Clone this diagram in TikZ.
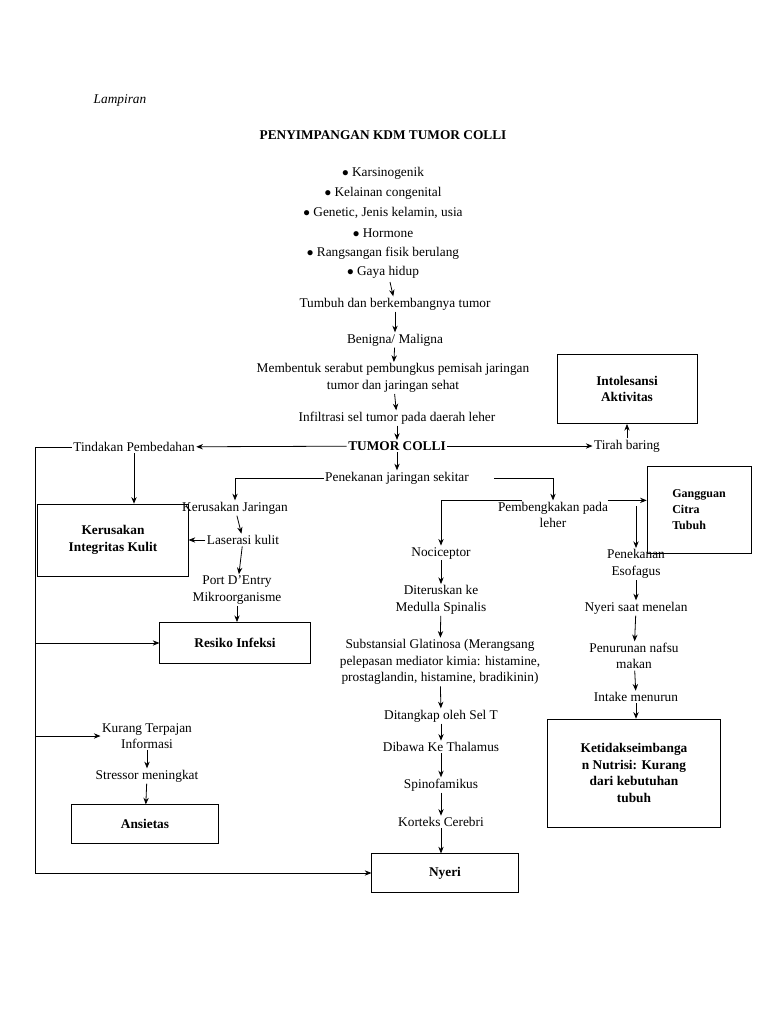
\documentclass[tikz,border=0pt]{standalone}
\usepackage{fontspec}
\setmainfont{Liberation Serif}
\usetikzlibrary{arrows.meta}
\begin{document}
\begin{tikzpicture}[x=0.75pt,y=-0.75pt,
  every node/.style={font=\fontsize{10}{12.5}\selectfont, inner sep=1pt, align=center},
  box/.style={draw, font=\fontsize{10}{12.5}\selectfont\bfseries, align=center},
  a/.style={-{Stealth[length=5pt,width=4pt]}, line width=0.6pt},
  l/.style={line width=0.6pt}]
\useasboundingbox (0,0) rectangle (768,1024);
\node (lamp) at (120,101) {\itshape Lampiran};
\node (title) at (383,135) {\bfseries PENYIMPANGAN KDM TUMOR COLLI};
\node (b1) at (383,173) {$\bullet$ Karsinogenik};
\node (b2) at (383,193) {$\bullet$ Kelainan congenital};
\node (b3) at (383,213) {$\bullet$ Genetic, Jenis kelamin, usia};
\node (b4) at (383,233) {$\bullet$ Hormone};
\node (b5) at (383,253) {$\bullet$ Rangsangan fisik berulang};
\node (b6) at (383,272) {$\bullet$ Gaya hidup};
\node (tum) at (395,304) {Tumbuh dan berkembangnya tumor};
\node (ben) at (395,340) {Benigna/ Maligna};
\node (mem) at (393,378) {Membentuk serabut pembungkus pemisah jaringan\\tumor dan jaringan sehat};
\node (inf) at (397,418) {Infiltrasi sel tumor pada daerah leher};
\node (tc) at (397,446) {\bfseries TUMOR COLLI};
\node (tin) at (134,447) {Tindakan Pembedahan};
\node (tir) at (627,446) {Tirah baring};
\node[box, minimum width=105, minimum height=52] (into) at (627,389) {Intolesansi\\Aktivitas};
\node[box, minimum width=113, minimum height=54] (kik) at (113,540) {Kerusakan\\Integritas Kulit};
\node (pen) at (397,478) {Penekanan jaringan sekitar};
\node (kj) at (235,508) {Kerusakan Jaringan};
\node (las) at (243,540) {Laserasi kulit};
\node (port) at (237,590) {Port D'Entry\\Mikroorganisme};
\node[box, minimum width=113, minimum height=31] (res) at (235,643) {Resiko Infeksi};
\node (kur) at (147,736) {Kurang Terpajan\\Informasi};
\node (str) at (147,776) {Stressor meningkat};
\node[box, minimum width=110, minimum height=29] (ans) at (145,824) {Ansietas};
\node[box, minimum width=110, minimum height=29] (nyeri) at (445,873) {Nyeri};
\node (pem) at (553,515) {Pembengkakan pada\\leher};
\node[box, minimum width=78, minimum height=65, font=\fontsize{9}{12}\selectfont\bfseries, align=left] (gan) at (699,510) {Gangguan\\Citra\\Tubuh};
\node (noc) at (441,553) {Nociceptor};
\node (dit) at (441,600) {Diteruskan ke\\Medulla Spinalis};
\node (sub) at (440,662) {Substansial Glatinosa (Merangsang\\pelepasan mediator kimia: histamine,\\prostaglandin, histamine, bradikinin)};
\node (dtk) at (441,716) {Ditangkap oleh Sel T};
\node (dib) at (441,747) {Dibawa Ke Thalamus};
\node (spi) at (441,785) {Spinofamikus};
\node (kor) at (441,822) {Korteks Cerebri};
\node (pes) at (636,564) {Penekanan\\Esofagus};
\node (nsm) at (636,608) {Nyeri saat menelan};
\node (pnf) at (634,656) {Penurunan nafsu\\makan};
\node (int) at (636,697) {Intake menurun};
\node[box, minimum width=130, minimum height=81] (ket) at (634,773) {Ketidakseimbanga\\n Nutrisi: Kurang\\dari kebutuhan\\tubuh};
% main chain
\draw[a] (390,282) -- (tum);
\draw[a] (tum) -- (ben);
\draw[a] (ben) -- (mem);
\draw[a] (mem) -- (inf);
\draw[a] (inf) -- (tc);
\draw[a] (tc) -- (tin);
\draw[a] (tc) -- (tir);
\draw[a] (tir) -- (into);
\draw[a] (tin) -- (tin|-kik.north);
\draw[a] (tc) -- (pen);
% left bus
\coordinate (L1) at (35,447);
\coordinate (L2) at (35,873);
\draw[l] (tin.west) -- (L1) -- (L2);
\draw[a] (L2) -- (nyeri);
\draw[a] (35,643) -- (res);
\draw[a] (35,736) -- (kur);
% penekanan branches
\draw[a] (pen.west) -| (kj);
\draw[a] (494,478) -| (pem);
\draw[a] (kj) -- (las);
\draw[a] (las) -- (kik);
\draw[a] (las) -- (port);
\draw[a] (port) -- (port|-res.north);
\draw[a] (kur) -- (str);
\draw[a] (str) -- (ans);
% pembengkakan
\draw[a] (pem.155) -| (noc);
\draw[a] (pem.15) -- (gan.west|-pem.15);
\draw[a] (636,506) -- (pes);
\draw[a] (noc) -- (dit);
\draw[a] (dit) -- (sub);
\draw[a] (sub) -- (dtk);
\draw[a] (dtk) -- (dib);
\draw[a] (dib) -- (spi);
\draw[a] (spi) -- (kor);
\draw[a] (kor) -- (kor|-nyeri.north);
\draw[a] (pes) -- (nsm);
\draw[a] (nsm) -- (pnf);
\draw[a] (pnf) -- (int);
\draw[a] (int) -- (int|-ket.north);
\end{tikzpicture}
\end{document}
